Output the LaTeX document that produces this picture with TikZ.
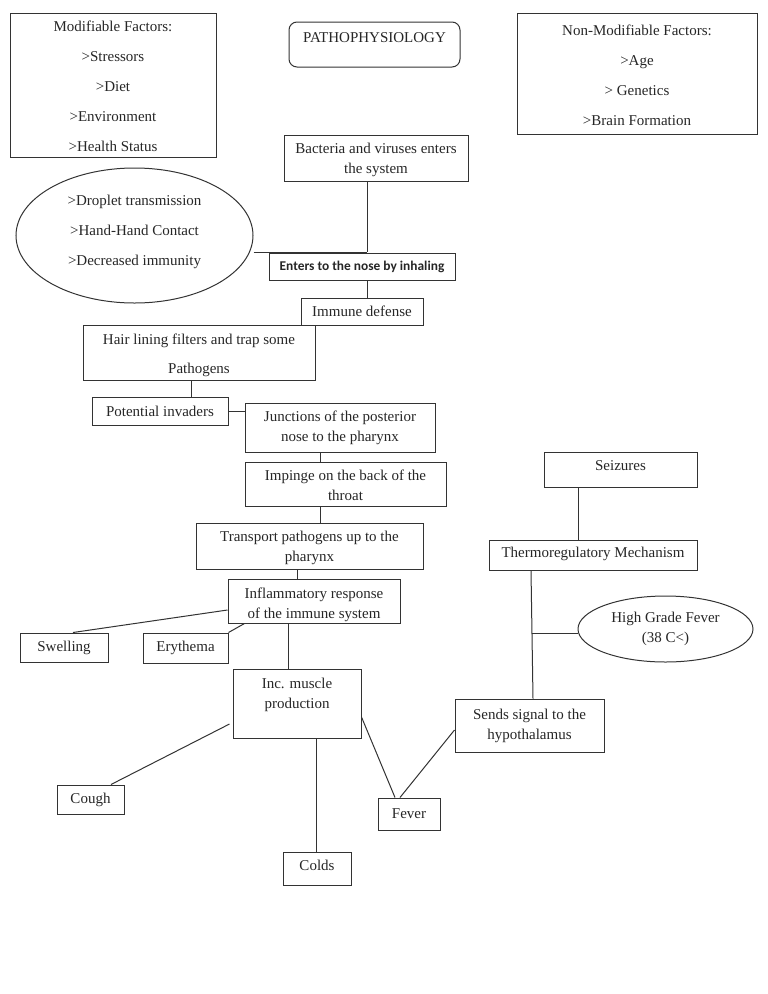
\documentclass[tikz,border=0pt]{standalone}
\usepackage{fontspec}
\setmainfont{Liberation Serif}
\newfontfamily\calfont{Carlito}
\usetikzlibrary{shapes.geometric}
\newcommand\topfix[1]{\rule{0pt}{#1}}
\begin{document}
\begin{tikzpicture}[x=1pt,y=-1pt,
  every node/.style={font=\fontsize{15}{20}\selectfont, inner sep=0pt, align=center, text=black!85},
  box/.style={draw=black!80, line width=1pt, rectangle},
  oval/.style={draw=black!80, line width=1pt, ellipse},
  link/.style={draw=black!80, line width=1pt},
]
\useasboundingbox (0,0) rectangle (768,994);

% top row
\node[box, minimum width=206pt, minimum height=144pt] (mod) at (113,85)
  {\topfix{14pt}Modifiable Factors:\\[10pt]>Stressors\\[10pt]>Diet\\[10pt]>Environment\\[10pt]>Health Status};
\node[box, rounded corners=8pt, minimum width=171pt, minimum height=45pt] (path) at (374.5,44.5)
  {\raisebox{5.5pt}[0.7em][0.2em]{PATHOPHYSIOLOGY}};
\node[box, minimum width=240pt, minimum height=121pt] (nonmod) at (637,73.5)
  {\topfix{14pt}Non-Modifiable Factors:\\[10pt]>Age\\[10pt]> Genetics\\[10pt]>Brain Formation};

% main chain
\node[box, minimum width=184pt, minimum height=46pt] (bact) at (376,158) {\topfix{14pt}Bacteria and viruses enters\\the system};
\node[oval, minimum width=237pt, minimum height=135pt] (ell) at (134.5,235.5) {};
\node (elltxt) at (134.5,230) {\topfix{14pt}>Droplet transmission\\[10pt]>Hand-Hand Contact\\[10pt]>Decreased immunity};
\node[box, minimum width=186pt, minimum height=27pt] (enters) at (362,266.5)
  {\calfont\bfseries\fontsize{13.4}{16}\selectfont Enters to the nose by inhaling};
\node[box, minimum width=122pt, minimum height=27pt] (immune) at (362,311.5) {Immune defense};
\node[box, minimum width=232pt, minimum height=55pt] (hair) at (199,352.5) {\topfix{16pt}Hair lining filters and trap some\\[9pt]Pathogens};
\node[box, minimum width=136pt, minimum height=28pt] (pot) at (160,411) {Potential invaders};
\node[box, minimum width=190pt, minimum height=49pt] (junc) at (340,427.5) {Junctions of the posterior\\nose to the pharynx};
\node[box, minimum width=201pt, minimum height=44pt] (imp) at (345.5,484) {\topfix{14pt}Impinge on the back of the\\throat};
\node[box, minimum width=227pt, minimum height=46pt] (trans) at (309.5,546) {\topfix{14pt}Transport pathogens up to the\\pharynx};
\node[box, minimum width=172pt, minimum height=44pt] (infl) at (314,601) {\topfix{18pt}Inflammatory response\\of the immune system};
\node[box, minimum width=88pt, minimum height=29pt] (swell) at (64,647.5) {Swelling};
\node[box, minimum width=85pt, minimum height=30pt] (ery) at (185.5,648) {Erythema};
\node[box, minimum width=128pt, minimum height=69pt] (inc) at (297,703.5) {};
\node (inctxt) at (297,693) {\topfix{14pt}Inc. muscle\\production};
\node[box, minimum width=67pt, minimum height=29pt] (cough) at (90.5,799.5) {Cough};
\node[box, minimum width=68pt, minimum height=33pt] (colds) at (317,868.5) {\raisebox{1.5pt}[0.7em][0.2em]{Colds}};
\node[box, minimum width=62pt, minimum height=32pt] (fever) at (409,814) {Fever};

% right branch
\node[box, minimum width=149pt, minimum height=53pt] (sends) at (529.5,725.5) {Sends signal to the\\hypothalamus};
\node[box, minimum width=153pt, minimum height=35pt] (seiz) at (620.5,469.5) {\raisebox{2.5pt}[0.7em][0.2em]{Seizures}};
\node[box, minimum width=208pt, minimum height=30pt] (thermo) at (593,555) {\raisebox{1pt}[0.7em][0.2em]{Thermoregulatory Mechanism}};
\node[oval, minimum width=175pt, minimum height=66pt] (high) at (665.5,629) {High Grade Fever\\(38 C<)};

% helper coordinates
\coordinate (j1) at (367,252);
\coordinate (c320) at (320,0);
\coordinate (c297) at (297,0);
\coordinate (c288) at (288,0);
\coordinate (c316) at (316,0);
\coordinate (c578) at (578,0);
\coordinate (br) at (532,633);

% connectors
\draw[link] (bact.south -| j1) -- (j1);
\draw[link] (ell.east |- j1) -- (j1);
\draw[link] (enters.south -| j1) -- (immune.north -| j1);
\draw[link] ([xshift=-8pt]hair.south) -- ([xshift=31pt]pot.north);
\draw[link] (pot.east) -- (pot.east -| junc.west);
\draw[link] (junc.south -| c320) -- (imp.north -| c320);
\draw[link] (imp.south -| c320) -- (trans.north -| c320);
\draw[link] (trans.south -| c297) -- (infl.north -| c297);
\draw[link] ([yshift=-9pt]infl.west) -- ([xshift=9pt]swell.north);
\draw[link] ([xshift=17pt]infl.south west) -- (ery.north east);
\draw[link] (infl.south -| c288) -- (inc.north -| c288);
\draw[link] ([xshift=-3pt,yshift=-20.5pt]inc.west) -- ([xshift=20.5pt]cough.north);
\draw[link] (inc.south -| c316) -- (colds.north -| c316);
\draw[link] ([yshift=-13.5pt]inc.east) -- ([xshift=-14pt]fever.north);
\draw[link] ([xshift=-9pt]fever.north) -- ([yshift=-4.5pt]sends.west);
\draw[link] (seiz.south -| c578) -- (thermo.north -| c578);
\draw[link] ([xshift=-62pt]thermo.south) -- ([xshift=3.5pt]sends.north);
\draw[link] (br) -- (br -| high.west);
\end{tikzpicture}
\end{document}
